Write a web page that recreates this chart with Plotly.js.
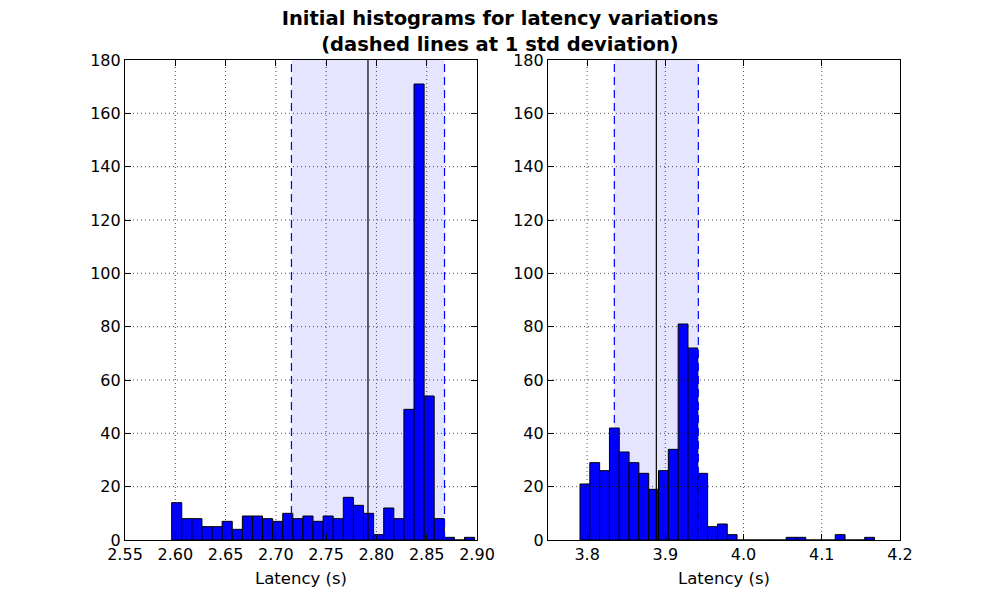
<!DOCTYPE html>
<html>
<head>
<meta charset="utf-8">
<script src="https://cdn.plot.ly/plotly-3.0.1.min.js"></script>
<style>html,body{margin:0;padding:0;background:#fff}#chart{width:1000px;height:600px}</style>
</head>
<body>
<div id="chart"></div>
<script>
// ---- data ----
const leftCounts = [14, 8, 8, 5, 5, 7, 4, 9, 9, 8, 7, 10, 8, 9, 7, 9, 8, 16, 13, 10, 2, 12, 8, 49, 171, 54, 8, 1, 0, 1];
const leftBinStart = 2.5964;
const leftBinWidth = 0.01004;
const leftMean = 2.7916;
const leftStd = 0.0761;

const rightCounts = [21, 29, 26, 42, 33, 29, 25, 19, 26, 34, 81, 72, 25, 5, 6, 2, 0, 0, 0, 0, 0, 1, 1, 0, 0, 0, 2, 0, 0, 1];
const rightBinStart = 3.7909;
const rightBinWidth = 0.01255;
const rightMean = 3.8885;
const rightStd = 0.0537;

const leftXTicks = [2.55, 2.60, 2.65, 2.70, 2.75, 2.80, 2.85, 2.90];
const leftXLabels = ["2.55", "2.60", "2.65", "2.70", "2.75", "2.80", "2.85", "2.90"];
const rightXTicks = [3.8, 3.9, 4.0, 4.1, 4.2];
const rightXLabels = ["3.8", "3.9", "4.0", "4.1", "4.2"];
const yTicks = [0, 20, 40, 60, 80, 100, 120, 140, 160, 180];

const titleText = "Initial histograms for latency variations<br>(dashed lines at 1 std deviation)";
const xTitle = "Latency (s)";

// ---- build ----
function centers(counts, start, w) { return counts.map((_, i) => start + (i + 0.5) * w); }

const FONT = "DejaVu Sans, Arial, sans-serif";
const barStyle = { color: "#0000ff", line: { color: "#000", width: 1 } };

const traces = [
  { type: "bar", x: centers(leftCounts, leftBinStart, leftBinWidth), y: leftCounts,
    width: leftBinWidth, marker: barStyle, xaxis: "x", yaxis: "y", hoverinfo: "x+y" },
  { type: "bar", x: centers(rightCounts, rightBinStart, rightBinWidth), y: rightCounts,
    width: rightBinWidth, marker: barStyle, xaxis: "x2", yaxis: "y2", hoverinfo: "x+y" }
];

function statShapes(xr, yr, mean, std) {
  return [
    { type: "rect", xref: xr, yref: yr + " domain", x0: mean - std, x1: mean + std, y0: 0, y1: 1,
      fillcolor: "#e5e5ff", line: { width: 0 }, layer: "below" },
    { type: "line", xref: xr, yref: yr + " domain", x0: mean - std, x1: mean - std, y0: 0, y1: 1,
      line: { color: "#0000ff", width: 1.2, dash: "8px,5px" }, layer: "above" },
    { type: "line", xref: xr, yref: yr + " domain", x0: mean + std, x1: mean + std, y0: 0, y1: 1,
      line: { color: "#0000ff", width: 1.2, dash: "8px,5px" }, layer: "above" },
    { type: "line", xref: xr, yref: yr + " domain", x0: mean, x1: mean, y0: 0, y1: 1,
      line: { color: "#000", width: 1.2 }, layer: "above" }
  ];
}
function gridShapes(xr, yr, xt, yt, xmin, xmax) {
  const g = [];
  const st = { color: "#222", width: 0.8, dash: "1px,3px" };
  xt.filter(v => v > xmin + 1e-9 && v < xmax - 1e-9).forEach(v =>
    g.push({ type: "line", xref: xr, yref: yr + " domain", x0: v, x1: v, y0: 0, y1: 1, line: st, layer: "above" }));
  yt.slice(1, -1).forEach(v =>
    g.push({ type: "line", xref: xr + " domain", yref: yr, x0: 0, x1: 1, y0: v, y1: v, line: st, layer: "above" }));
  return g;
}

const shapes = [].concat(
  statShapes("x", "y", leftMean, leftStd),
  statShapes("x2", "y2", rightMean, rightStd),
  gridShapes("x", "y", leftXTicks, yTicks, 2.55, 2.90),
  gridShapes("x2", "y2", rightXTicks, yTicks, 3.75, 4.2)
);

const tickFont = { family: FONT, size: 16, color: "#000" };
function xAxis(domain, range, tv, tt, anchor) {
  return { domain: domain, range: range, anchor: anchor, tickvals: tv, ticktext: tt,
    ticks: "inside", ticklen: 6, tickcolor: "#000", mirror: "ticks", showline: true, linecolor: "#000", linewidth: 1.1,
    showgrid: false, zeroline: false, tickfont: tickFont, automargin: false,
    title: { text: xTitle, font: { family: FONT, size: 16.5, color: "#000" }, standoff: 9 } };
}
function yAxis(domain, anchor) {
  return { domain: domain, range: [0, 180], anchor: anchor, tickvals: yTicks,
    ticks: "inside", ticklen: 6, tickcolor: "#000", mirror: "ticks", showline: true, linecolor: "#000", linewidth: 1.1,
    showgrid: false, zeroline: false, tickfont: tickFont, automargin: false };
}

const layout = {
  width: 1000, height: 600,
  margin: { l: 0, r: 0, t: 0, b: 0 },
  paper_bgcolor: "#fff", plot_bgcolor: "#fff",
  showlegend: false, bargap: 0,
  font: { family: FONT, color: "#000" },
  title: { text: "<b>" + titleText + "</b>", font: { family: FONT, size: 19.5, color: "#000" },
    xref: "container", x: 0.5, xanchor: "center", yref: "container", y: 0.958, yanchor: "top" },
  xaxis: xAxis([0.125, 0.477], [2.55, 2.90], leftXTicks, leftXLabels, "y"),
  yaxis: yAxis([0.1, 0.9], "x"),
  xaxis2: xAxis([0.548, 0.900], [3.75, 4.2], rightXTicks, rightXLabels, "y2"),
  yaxis2: yAxis([0.1, 0.9], "x2"),
  shapes: shapes
};

Plotly.newPlot("chart", traces, layout, { displayModeBar: false, staticPlot: true });
</script>
</body>
</html>
